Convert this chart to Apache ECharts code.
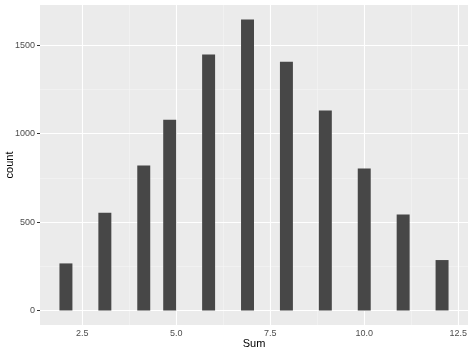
<!DOCTYPE html>
<html><head><meta charset="utf-8">
<script src="https://cdn.jsdelivr.net/npm/echarts@6/dist/echarts.min.js"></script>
<style>html,body{margin:0;padding:0;background:#fff}#c{width:474px;height:355px}</style>
</head><body><div id="c"></div>
<script>
const sums = [2, 3, 4, 5, 6, 7, 8, 9, 10, 11, 12];
const counts = [266, 552, 820, 1078, 1447, 1645, 1407, 1130, 803, 543, 285];
const xTicks = [2.5, 5.0, 7.5, 10.0, 12.5];
const xMinor = [3.75, 6.25, 8.75, 11.25];
const yTicks = [0, 500, 1000, 1500];
const yMinor = [250, 750, 1250];
const nBins = 30;

// ggplot2 stat_bin(bins = 30) style binning
const lo = Math.min(...sums), hi = Math.max(...sums);
const bw = (hi - lo) / (nBins - 1);
const boundary = bw / 2;
const origin = boundary + Math.floor((lo - boundary) / bw) * bw;
const bars = sums.map((s, i) => {
  const k = Math.ceil((s - origin) / bw - 1e-7) - 1;
  const x0 = origin + k * bw;
  return [x0, x0 + bw, counts[i]];
});
const xs0 = Math.min(...bars.map(b => b[0])), xs1 = Math.max(...bars.map(b => b[1]));
const xr = xs1 - xs0;
const xMin = xs0 - 0.05 * xr, xMax = xs1 + 0.05 * xr;
const yTop = Math.max(...counts);
const yMin = -0.05 * yTop, yMax = yTop * 1.05;

const font = '"Liberation Sans", Arial, Helvetica, sans-serif';
const major = {color: '#ffffff', width: 1.1, type: 'solid'};
const minor = {color: '#f5f5f5', width: 0.55, type: 'solid'};
const gridLines = []
  .concat(yMinor.map(v => ({yAxis: v, lineStyle: minor})))
  .concat(xMinor.map(v => ({xAxis: v, lineStyle: minor})))
  .concat(yTicks.map(v => ({yAxis: v, lineStyle: major})))
  .concat(xTicks.map(v => ({xAxis: v, lineStyle: major})));

const chart = echarts.init(document.getElementById('c'), null, {renderer: 'canvas'});
chart.setOption({
  animation: false,
  backgroundColor: '#ffffff',
  grid: {left: 40, right: 6, top: 5, bottom: 30, show: true, backgroundColor: '#EBEBEB', borderWidth: 0,
    containLabel: false, outerBoundsMode: 'none'},
  xAxis: {
    type: 'value', min: xMin, max: xMax,
    name: 'Sum', nameLocation: 'middle', nameGap: 13, nameMoveOverlap: false,
    nameTextStyle: {fontFamily: font, fontSize: 11, color: '#000'},
    axisLine: {show: false},
    axisTick: {show: true, length: 3, customValues: xTicks, lineStyle: {color: '#333333', width: 1}},
    axisLabel: {customValues: xTicks, formatter: v => v.toFixed(1), margin: 4,
      fontFamily: font, fontSize: 9, color: '#4D4D4D'},
    splitLine: {show: false}
  },
  yAxis: {
    type: 'value', min: yMin, max: yMax,
    name: 'count', nameLocation: 'middle', nameGap: 25, nameMoveOverlap: false,
    nameTextStyle: {fontFamily: font, fontSize: 11, color: '#000'},
    axisLine: {show: false},
    axisTick: {show: true, length: 3, customValues: yTicks, lineStyle: {color: '#333333', width: 1}},
    axisLabel: {customValues: yTicks, formatter: v => String(v), margin: 5,
      fontFamily: font, fontSize: 9, color: '#4D4D4D'},
    splitLine: {show: false}
  },
  series: [{
    type: 'custom',
    z: 3,
    data: bars,
    encode: {x: [0, 1], y: 2},
    renderItem: (params, api) => {
      const p0 = api.coord([api.value(0), api.value(2)]);
      const p1 = api.coord([api.value(1), 0]);
      return {type: 'rect',
        shape: {x: p0[0], y: p0[1], width: p1[0] - p0[0], height: p1[1] - p0[1]},
        style: {fill: '#474747'}};
    },
    markLine: {
      silent: true, z: 1, symbol: ['none', 'none'], animation: false,
      label: {show: false}, emphasis: {disabled: true},
      data: gridLines
    }
  }]
});
</script></body></html>
